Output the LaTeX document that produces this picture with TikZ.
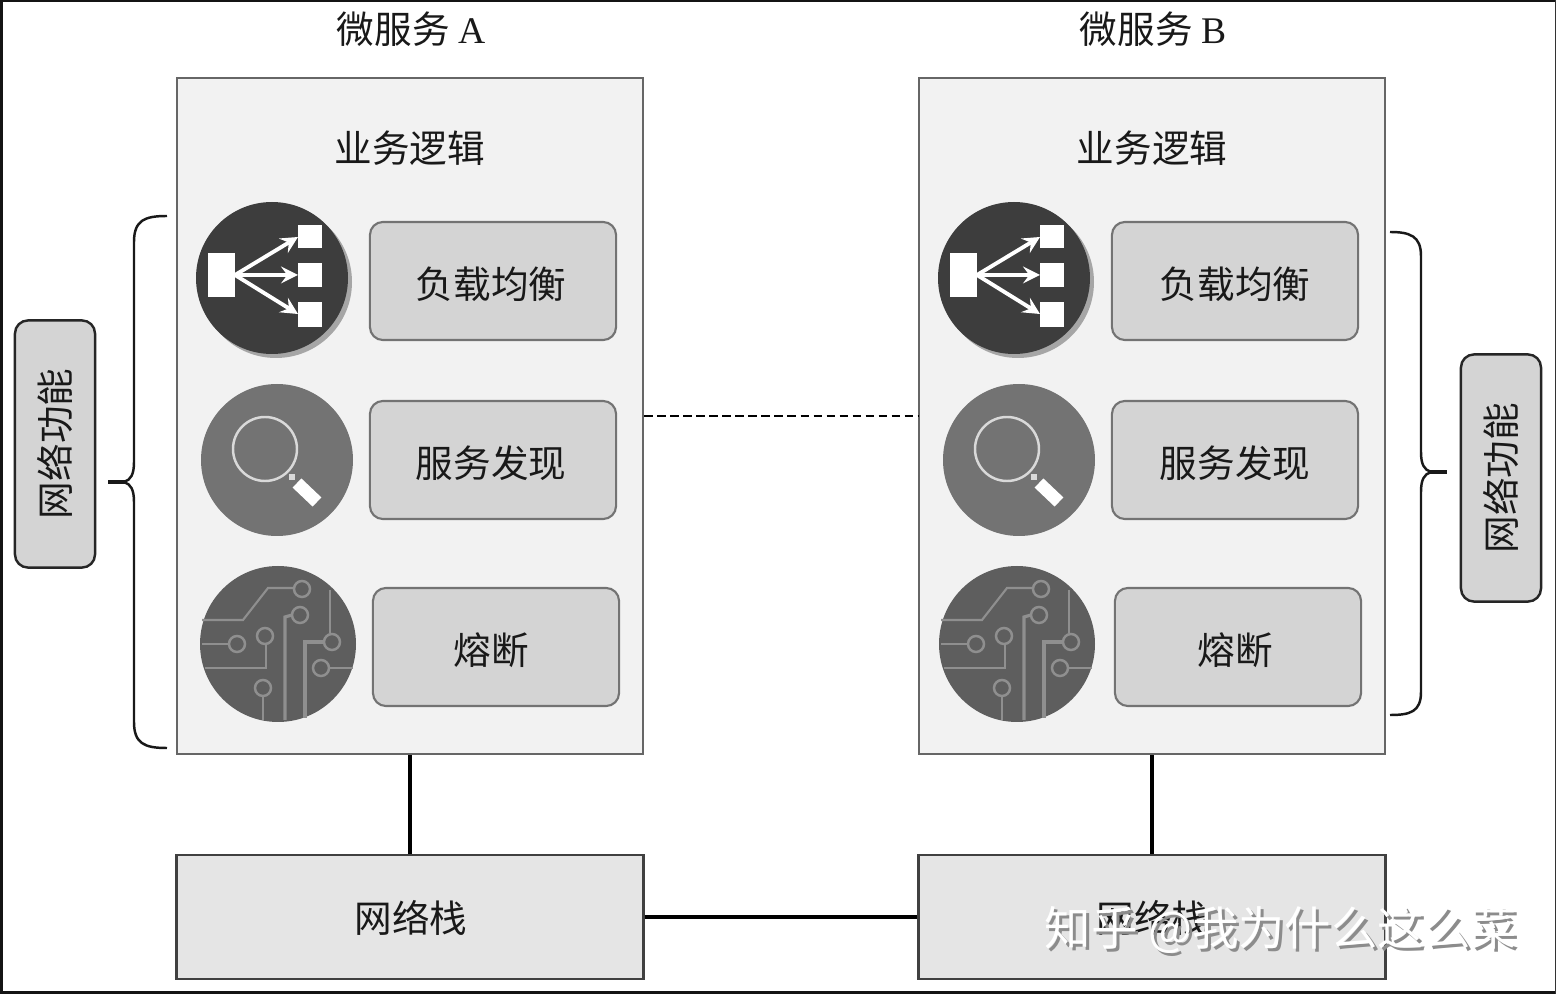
\documentclass[tikz,border=0pt]{standalone}
\usepackage{fontspec}
\setmainfont{Liberation Serif}
\newfontfamily\cjk{Noto Sans CJK SC}
\definecolor{darkicon}{gray}{.24}
\definecolor{lensicon}{gray}{.45}
\definecolor{chipicon}{gray}{.37}
\definecolor{chipline}{gray}{.56}
\tikzset{
	lbl/.style={font=\cjk\fontsize{10.7}{12}\selectfont,inner sep=0pt,text=black!90},
	svcbox/.style={draw=black!60,line width=.7pt,fill=black!5,minimum width=4.66cm,minimum height=6.76cm,inner sep=0pt},
	stackbox/.style={draw=black!75,line width=.8pt,fill=black!10,minimum width=4.66cm,minimum height=1.24cm,inner sep=0pt},
	funcbox/.style={draw=black!55,line width=.6pt,fill=black!17,rounded corners=.13cm,minimum width=2.46cm,minimum height=1.18cm,inner sep=0pt},
	sidebox/.style={draw=black!85,line width=.7pt,fill=black!17,rounded corners=.13cm,minimum width=2.47cm,minimum height=.8cm,lbl,rotate=90},
	brace/.style={line width=.7pt,black!90},
	link/.style={line width=.95pt,black},
	chip/.style={line width=.6pt,chipline},
}
\begin{document}
\begin{tikzpicture}[x=.01cm,y=-.01cm]
\useasboundingbox (0,0) rectangle (1556,994);
\fill[white] (0,0) rectangle (1556,994);
\fill[black!92] (0,0) rectangle (3,994);
\fill[black!92] (0,0) rectangle (1556,2);
\fill[black!92] (0,991) rectangle (1556,994);
\fill[black!80] (1555,0) rectangle (1556,994);
\foreach \svc/\dx/\tx/\cx/\ttl in {a/0/0/0/A,b/742/744/739/B}{
\node[svcbox] (\svc box) at (410+\dx,416) {};
\node[stackbox] (\svc stack) at (410+\dx,917) {};
\node[lbl] (\svc stacktext) at (411+\dx,918) {网络栈};
\node[lbl] (\svc title) at (411+\dx,29) {微服务 {\rmfamily\ttl}};
\node[lbl] (\svc logic) at (410+\dx,148) {业务逻辑};
\node[funcbox] (\svc balance) at (493+\dx,281) {};
\node[funcbox] (\svc discover) at (493+\dx,460) {};
\node[funcbox] (\svc breaker) at (496+\dx,647) {};
\node[lbl] (\svc balancetext) at (491+\tx,284) {负载均衡};
\node[lbl] (\svc discovertext) at (491+\tx,463) {服务发现};
\node[lbl] (\svc breakertext) at (491+\tx,650) {熔断};
\draw[link] (\svc box.south)--(\svc stack.north);
\begin{scope}[shift={(\dx,0)}]
	%load balancing
	\fill[black!35] (276,282) circle (76);
	\fill[darkicon] (272,278) circle (76);
	\draw[white,line width=1.1pt,-stealth] (235,275)--(298,237);
	\draw[white,line width=1.1pt,-stealth] (235,275)--(298,275);
	\draw[white,line width=1.1pt,-stealth] (235,275)--(298,314);
	\fill[white] (208,253) rectangle (235,297);
	\fill[white] (298,225) rectangle (322,248);
	\fill[white] (298,263) rectangle (322,287);
	\fill[white] (298,302) rectangle (322,327);
	%lens
	\fill[lensicon] (277,460) circle (76);
	\draw[white!85!black,line width=.7pt] (265,449) circle (32);
	\fill[white!85!black] (289,474) rectangle (295,480);
	\draw[white,line width=3.6pt] (297,483)--(317,502);
\end{scope}
\begin{scope}[shift={(\cx,0)}]
	%circuit
	\fill[chipicon] (278,644) circle (78);
	\draw[chip] (202,620)--(243,620)--(268,588)--(294,588);
	\draw[chip] (202,644)--(229,644);
	\draw[chip] (205,668)--(266,668)--(266,645);
	\draw[chip,line width=.9pt] (285,720)--(285,617)--(292,615);
	\draw[chip,line width=1.2pt] (305,718)--(305,642)--(323,642);
	\draw[chip] (330,590)--(330,633);
	\draw[chip] (353,668)--(329,668);
	\draw[chip] (263,720)--(263,697);
	\foreach \px/\py in {302/589,237/644,265/636,300/615,332/642,321/668,263/688}
		\draw[chip,line width=.7pt] (\px,\py) circle (8);
\end{scope}
}
\draw[link,line width=.6pt,dash pattern=on 2.4pt off 1.3pt] (abox.east)--(bbox.west);
\draw[link,line width=.9pt] (astack.east)--(bstack.west);
\node[sidebox] (leftfunc) at (55,444) {\raisebox{-.55pt}{网络功能}};
\node[sidebox] (rightfunc) at (1501,478) {\raisebox{.3pt}{网络功能}};
\draw[brace] (167,216) .. controls (145,216) and (134,220) .. (134,242)--(134,462) .. controls (134,474) and (131,480) .. (124,482) .. controls (131,484) and (134,490) .. (134,502)--(134,722) .. controls (134,744) and (145,748) .. (167,748);
\draw[brace,line width=1.1pt] (108,482)--(126,482);
\draw[brace] (1390,232) .. controls (1410,232) and (1421,236) .. (1421,256)--(1421,452) .. controls (1421,464) and (1424,470) .. (1431,472) .. controls (1424,474) and (1421,480) .. (1421,492)--(1421,692) .. controls (1421,712) and (1410,715) .. (1390,715);
\draw[brace,line width=1.1pt] (1429,472)--(1447,472);
\node[lbl,font=\cjk\fontsize{13.2}{15}\selectfont,text=black!45] (markshadow) at (1284,933) {知乎 @我为什么这么菜};
\node[lbl,font=\cjk\fontsize{13.2}{15}\selectfont,text=white] (mark) at (1281,930) {知乎 @我为什么这么菜};
\end{tikzpicture}
\end{document}
